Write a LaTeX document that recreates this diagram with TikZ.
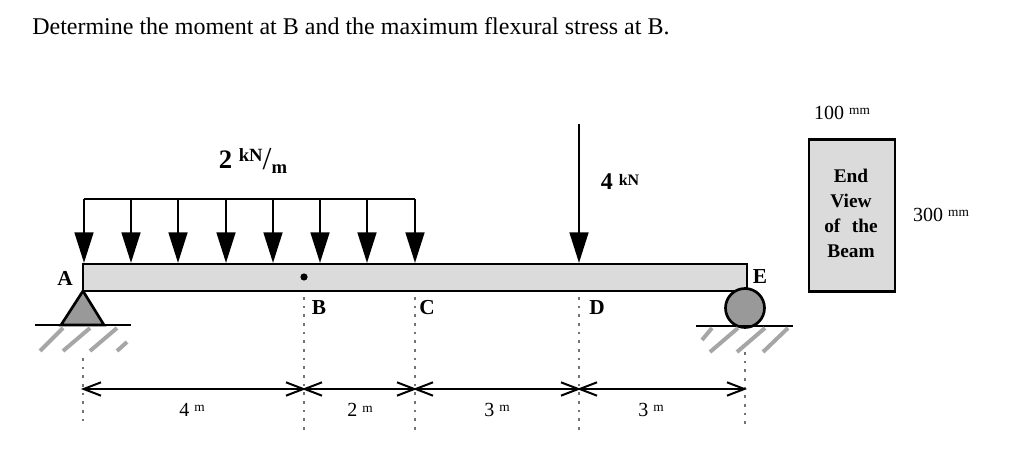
\documentclass[tikz,border=0pt]{standalone}
\usepackage{fontspec}
\setmainfont{Liberation Serif}
\usepackage{tikz}
\usetikzlibrary{arrows.meta,positioning,calc}
\tikzset{
	beamline/.style={line width=2.1pt,draw=black},
	loadarrow/.style={line width=2pt,-{Triangle[width=14pt,length=23pt]}},
	dimarrow/.style={line width=1.6pt,shorten >=-1.6pt,shorten <=-1.6pt,{Straight Barb[width=10pt,length=13pt,line width=1.5pt]}-{Straight Barb[width=10pt,length=13pt,line width=1.5pt]}},
	dimline/.style={black!55,line width=0.8pt,dash pattern=on 2pt off 4.5pt},
	hatch/.style={line width=3pt,color=gray!70},
	ground/.style={line width=1.9pt},
	pointlabel/.style={font=\fontsize{16}{16}\selectfont\bfseries,inner sep=0pt},
	dimlabel/.style={font=\fontsize{15}{15}\selectfont,inner sep=0pt}
}
\newcommand{\smallunit}[1]{\raisebox{0.5ex}{\fontsize{10}{10}\selectfont #1}}
\begin{document}
\begin{tikzpicture}[x=0.75pt,y=-0.75pt]
	\useasboundingbox (0,0) rectangle (1024,466);
	\node[inner sep=0pt,anchor=west,font=\fontsize{18}{18}\selectfont] (question) at (32,26) {Determine the moment at B and the maximum flexural stress at B.};
	\draw [beamline,fill=gray!28] (83,264) rectangle (747,291);
	\coordinate (loadstart) at (84,199);
	\coordinate (loadend) at (415,199);
	\draw [line width=2pt] (loadstart) -- (loadend);
	\foreach \i/\x in {1/84,2/131,3/178,4/226,5/273,6/320,7/367,8/415}{
		\coordinate (top\i) at (\x,199);
		\coordinate (tip\i) at (\x,263);
		\draw [loadarrow] (top\i) -- (tip\i);
	}
	\coordinate (ptop) at (579,124);
	\coordinate (ptip) at (579,263);
	\draw [loadarrow] (ptop) -- (ptip);
	\node[inner sep=0pt,font=\fontsize{20}{20}\selectfont\bfseries] (udl) at (253,161) {2 \raisebox{0.55ex}{\fontsize{14}{14}\selectfont kN}\raisebox{-0.05ex}{\fontsize{24}{24}\selectfont\mdseries /}\raisebox{-0.45ex}{\fontsize{14}{14}\selectfont m}};
	\node[inner sep=0pt,font=\fontsize{18}{18}\selectfont\bfseries] (pload) at (620,182) {4 \raisebox{0.4ex}{\fontsize{12}{12}\selectfont kN}};
	\fill (304,277) circle (3.6);
	\node[pointlabel] (A) at (65,278) {A};
	\node[pointlabel] (B) at (319,308) {B};
	\node[pointlabel] (C) at (427,308) {C};
	\node[pointlabel] (D) at (597,308) {D};
	\node[pointlabel] (E) at (760,277) {E};
	% supports
	\draw [line width=2pt,fill=gray!80] (83,291) -- (61,325) -- (104,325) -- cycle;
	\draw [ground] (35,325) -- (131,325);
	\foreach \a/\b in {63/40,90/63,117/90}{
		\draw [hatch] (\a,328) -- (\b,351);
	}
	\draw [hatch] (127,342) -- (117,351);
	\draw [line width=2pt,fill=gray!80] (745,308) circle (19.5);
	\draw [ground] (696,326) -- (793,326);
	\draw [hatch] (712,328) -- (702,340);
	\foreach \a/\b in {738/710,765/737,788/763}{
		\draw [hatch] (\a,328) -- (\b,352);
	}
	% dimensions
	\draw [dimline] (83,358) -- (83,426);
	\draw [dimline] (304,297) -- (304,430);
	\draw [dimline] (415,297) -- (415,430);
	\draw [dimline] (579,297) -- (579,430);
	\draw [dimline] (745,352) -- (745,428);
	\coordinate (dimA) at (83,389);
	\coordinate (dimB) at (304,389);
	\coordinate (dimC) at (415,389);
	\coordinate (dimD) at (579,389);
	\coordinate (dimE) at (745,389);
	\draw [dimarrow] (dimA) -- (dimB);
	\draw [dimarrow] (dimB) -- (dimC);
	\draw [dimarrow] (dimC) -- (dimD);
	\draw [dimarrow] (dimD) -- (dimE);
	\node[dimlabel] (lenAB) at (192,410) {4 \smallunit{m}};
	\node[dimlabel] (lenBC) at (360,410) {2 \smallunit{m}};
	\node[dimlabel] (lenCD) at (497,410) {3 \smallunit{m}};
	\node[dimlabel] (lenDE) at (651,410) {3 \smallunit{m}};
	% end view
	\node[draw,line width=2.1pt,fill=gray!28,minimum width=64.5pt,minimum height=114.5pt,inner sep=0pt,outer sep=0pt] (endview) at (852,215.5) {};
	\node[inner sep=0pt,font=\fontsize{14.5}{14.5}\selectfont\bfseries] (end1) at (851,176) {End};
	\node[inner sep=0pt,font=\fontsize{14.5}{14.5}\selectfont\bfseries] (end2) at (851,201) {View};
	\node[inner sep=0pt,font=\fontsize{14.5}{14.5}\selectfont\bfseries] (end3) at (851,226) {of\hspace{0.6em}the};
	\node[inner sep=0pt,font=\fontsize{14.5}{14.5}\selectfont\bfseries] (end4) at (851,251) {Beam};
	\node[dimlabel] (width) at (842,113) {100 \smallunit{mm}};
	\node[dimlabel] (height) at (941,215) {300 \smallunit{mm}};
\end{tikzpicture}
\end{document}
